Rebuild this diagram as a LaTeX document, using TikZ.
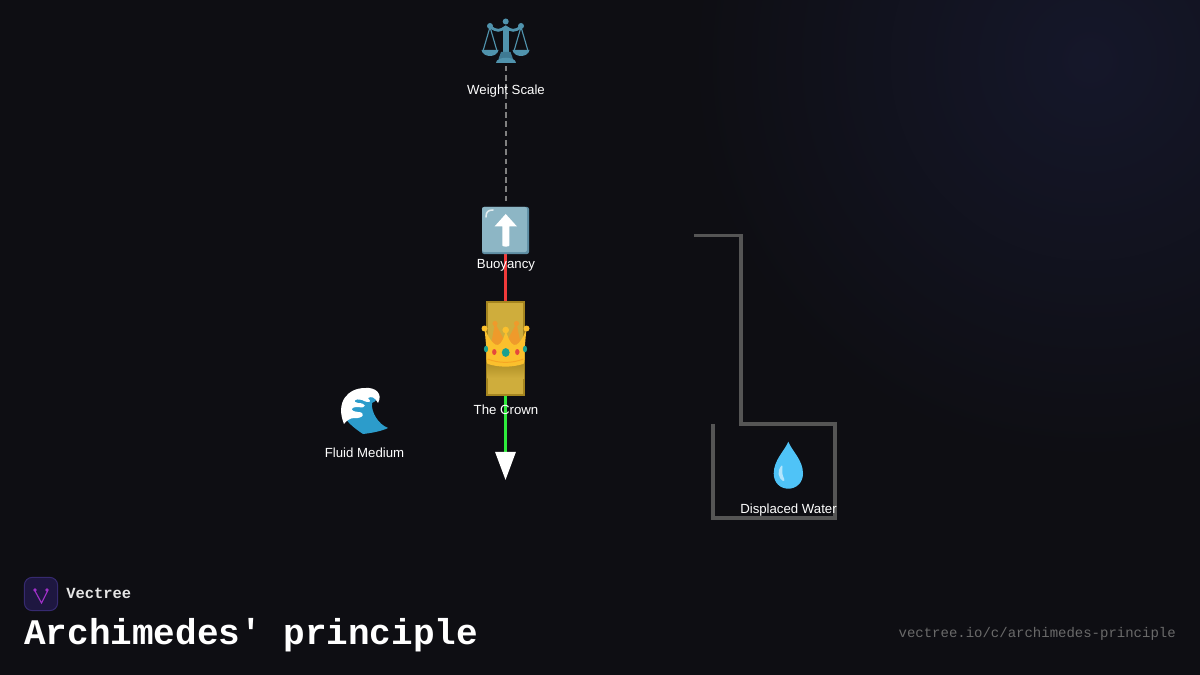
\documentclass[tikz,border=0pt]{standalone}
\usepackage{fontspec}
\setmainfont{Liberation Sans}
\setmonofont{Liberation Mono}
\usetikzlibrary{positioning,arrows.meta}

\definecolor{bgdark}{HTML}{0E0E13}
\definecolor{bgglow}{HTML}{15172A}
\definecolor{tankgray}{HTML}{555555}
\definecolor{dashgray}{HTML}{808080}
\definecolor{forcered}{HTML}{F03A3A}
\definecolor{forcegreen}{HTML}{2EEB3C}
\definecolor{crownbox}{HTML}{CFAD3C}
\definecolor{crownedge}{HTML}{A5851F}
\definecolor{scaleblue}{HTML}{5093AD}
\definecolor{scaledark}{HTML}{3F7A93}
\definecolor{keyblue}{HTML}{8DB6C5}
\definecolor{keydark}{HTML}{5E8DA3}
\definecolor{gold}{HTML}{FBC02D}
\definecolor{goldback}{HTML}{EF9A2B}
\definecolor{goldlow}{HTML}{F6A623}
\definecolor{gemteal}{HTML}{1AA090}
\definecolor{gemred}{HTML}{E5483C}
\definecolor{waveblue}{HTML}{2C9CCB}
\definecolor{dropblue}{HTML}{4FC3F7}
\definecolor{dropshine}{HTML}{B3E5FC}
\definecolor{logofill}{HTML}{1E1740}
\definecolor{logoedge}{HTML}{362A70}
\definecolor{logomark}{HTML}{A030C8}
\definecolor{urlgray}{HTML}{6A6A6A}

\begin{document}
\begin{tikzpicture}[
    x=0.025cm,
    y=-0.025cm,
    font=\fontsize{9.4}{11}\selectfont,
    icon/.style={inner sep=0pt, minimum width=1.175cm, minimum height=1.175cm},
    label/.style={text=white, inner sep=0pt, anchor=base},
    bar/.style={line width=2.13pt},
    tank/.style={draw=tankgray, line width=2.7pt, miter limit=10}
]

% ============================================================
% BACKGROUND
% ============================================================
\useasboundingbox (0,0) rectangle (1200,675);
\fill[bgdark] (0,0) rectangle (1200,675);
\begin{scope}
    \clip (0,0) rectangle (1200,675);
    \shade[inner color=bgglow, outer color=bgdark] (1090,60) circle (400);
\end{scope}

% ============================================================
% NODES
% ============================================================
\node[icon] (scale) at (505.5,42) {};
\node[icon] (buoy) at (505.5,230.5) {};
\node[draw=crownedge, fill=crownbox, line width=1.42pt, inner sep=0pt,
      minimum width=0.925cm, minimum height=2.3cm] (crown) at (505.5,348.5) {};
\node[icon] (wave) at (364.5,409) {};
\node[icon] (drop) at (788,465) {};
\coordinate (forcetip) at (505.5,480);

% ============================================================
% CONNECTORS
% ============================================================
\draw[dashgray, line width=1.42pt, dash pattern=on 4pt off 2.6pt, shorten >=3pt]
    (scale.south) -- (buoy.north);
\draw[forcered, bar] (buoy.south) -- (crown.north);
\draw[forcegreen, bar, -{Triangle[color=white, length=0.7cm, width=0.5cm]}]
    (crown.south) -- (forcetip);

% ============================================================
% TANK
% ============================================================
\draw[tank] (694,235.5) -- (741,235.5) -- (741,424) -- (835,424)
    -- (835,518) -- (713,518) -- (713,424);

% ============================================================
% SCALE ICON
% ============================================================
\fill[scaleblue] (503,28) rectangle (508.5,56);
\fill[scaleblue] (505.7,21.5) circle (3);
\draw[scaleblue, line width=2pt] (490,26.5) .. controls (497,32) and (500,31) .. (505.7,27)
    .. controls (511,31) and (515,32) .. (521,26.5);
\fill[scaleblue] (490,26) circle (3) (521,26) circle (3);
\draw[scaleblue, line width=0.8pt] (490,27) -- (483,51) (490,27) -- (497,51)
    (521,27) -- (514,51) (521,27) -- (528,51);
\fill[scaleblue] (481.5,50) .. controls (483,58) and (497,58) .. (498.5,50) -- cycle;
\fill[scaleblue] (512.5,50) .. controls (514,58) and (528,58) .. (529.5,50) -- cycle;
\fill[scaledark] (501,52) -- (510.5,52) -- (513,59) -- (498.5,59) -- cycle;
\fill[scaleblue] (495.5,63.5) .. controls (495.5,56.5) and (516,56.5) .. (516,63.5) -- cycle;

% ============================================================
% BUOYANCY ICON
% ============================================================
\fill[keydark, rounded corners=1.5pt] (482,207) rectangle (529,254);
\fill[keyblue, rounded corners=1.5pt] (482,207) rectangle (527,252);
\draw[white!75!keyblue, line width=1.1pt, line cap=round] (486,217) .. controls (486,212) and (488,210) .. (493,210);
\fill[white] (505.7,214) -- (517,226.5) -- (509.3,226.5) -- (509.3,245.5)
    .. controls (509.3,247) and (502.3,247) .. (502.3,245.5)
    -- (502.3,226.5) -- (494.5,226.5) -- cycle;

% ============================================================
% CROWN ICON
% ============================================================
\shade[top color=crownedge!80!crownbox, bottom color=crownbox] (487.5,362) rectangle (524,378);
\fill[goldback] (490,350) -- (495,323) -- (506,343) -- (516.5,323) -- (522,350) -- cycle;
\fill[goldback] (495,323.5) circle (2.6) (516.5,323.5) circle (2.6);
\fill[gold] (486.5,350) -- (484.5,328) .. controls (489,340) and (495,346) .. (498,345)
    .. controls (502,344) and (505,335) .. (505.7,330)
    .. controls (507,335) and (510,344) .. (514,345)
    .. controls (517,346) and (523,340) .. (526.5,328)
    -- (524.5,350) .. controls (525,362) and (524,364) .. (523,364)
    .. controls (512,367.5) and (499,367.5) .. (488,364)
    .. controls (487,364) and (486,362) .. (486.5,350) -- cycle;
\fill[gold] (484.5,328.5) circle (3) (505.7,330) circle (3.3) (526.5,328.5) circle (3);
\draw[goldlow, line width=0.7pt] (487.5,359) .. controls (499,363.5) and (512,363.5) .. (523.5,359);
\fill[gemteal] (505.7,352.5) ellipse (3.9 and 4.4);
\fill[gemred] (494.3,352) ellipse (2.2 and 3) (517.3,352) ellipse (2.2 and 3);
\fill[gemteal] (486,349) ellipse (2.1 and 3.3) (525,349) ellipse (2.1 and 3.3);

% ============================================================
% WAVE ICON
% ============================================================
\fill[waveblue] (345,418) .. controls (345,398) and (355,390) .. (372,392)
    .. controls (378,394) and (379,400) .. (372,403)
    .. controls (371,412) and (378,424) .. (388,428)
    .. controls (382,431) and (372,433) .. (363,434)
    .. controls (357,430) and (350,425) .. (345,418) -- cycle;
\fill[white] (344,424) .. controls (335,402) and (348,388) .. (365,388)
    .. controls (376,387) and (383,394) .. (378,403)
    .. controls (375,397) and (371,396) .. (368,398)
    .. controls (372,402) and (370,404) .. (362,400)
    .. controls (354,398) and (352,402) .. (358,403)
    .. controls (367,403) and (367,409) .. (358,407)
    .. controls (350,407) and (349,411) .. (358,412)
    .. controls (366,412) and (364,419) .. (354,418)
    .. controls (350,418) and (346,421) .. (344,424) -- cycle;

% ============================================================
% DROP ICON
% ============================================================
\fill[dropblue] (788.3,441.7) .. controls (792,451) and (803,460) .. (803,473.5)
    .. controls (803,483) and (796,488.7) .. (788.3,488.7)
    .. controls (780.5,488.7) and (773.7,483) .. (773.7,473.5)
    .. controls (773.7,460) and (784.5,451) .. (788.3,441.7) -- cycle;
\fill[dropshine] (781,466) .. controls (777,471) and (778,478) .. (783,481)
    .. controls (784.5,481.5) and (785,480) .. (784,478.5)
    .. controls (782,475) and (782,471) .. (782.5,467)
    .. controls (782.7,465.5) and (781.8,465) .. (781,466) -- cycle;

% ============================================================
% LABELS
% ============================================================
\node[label] (scalelabel) at (506,94.5) {Weight Scale};
\node[label] (buoylabel) at (506,268) {Buoyancy};
\node[label] (crownlabel) at (506,414) {The Crown};
\node[label] (wavelabel) at (364.5,457) {Fluid Medium};
\node[label] (droplabel) at (788.5,513) {Displaced Water};

% ============================================================
% FOOTER
% ============================================================
\node[fill=logofill, draw=logoedge, line width=0.7pt, rounded corners=5.5pt, inner sep=0pt,
      minimum width=0.83cm, minimum height=0.83cm] (logo) at (41,594) {};
\draw[logomark, line width=0.8pt] (35,591) -- (41.5,603) -- (47.5,591);
\fill[logomark] (35,590) circle (1.9) (47,590) circle (1.9);
\node[anchor=base west, inner sep=0pt, text=white!90!black,
      font=\ttfamily\bfseries\fontsize{11}{13}\selectfont] (brand) at (66,598) {Vectree};
\node[anchor=base west, inner sep=0pt, text=white,
      font=\ttfamily\bfseries\fontsize{25.6}{30}\selectfont] (title) at (24,644.5) {Archimedes' principle};
\node[anchor=base east, inner sep=0pt, text=urlgray,
      font=\ttfamily\fontsize{9.95}{12}\selectfont] (url) at (1176,637) {vectree.io/c/archimedes-principle};

\end{tikzpicture}
\end{document}
